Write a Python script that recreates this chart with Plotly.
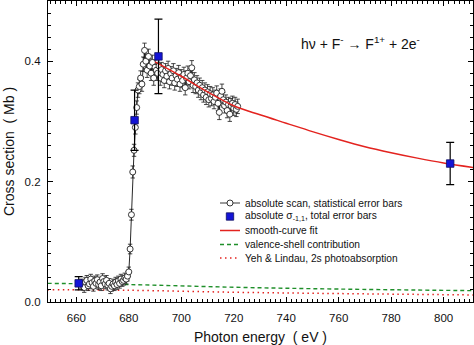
import plotly.graph_objects as go

# ---------------- data ----------------
scan_energy = [
    662.0, 662.5, 663.0, 663.5, 664.0, 664.5, 665.0, 665.5, 666.0, 666.5,
    667.0, 667.5, 668.0, 668.5, 669.0, 669.5, 670.0, 670.5, 671.0, 671.5,
    672.0, 672.5, 673.0, 673.5, 674.0, 674.5, 675.0, 675.5, 676.0, 676.5,
    677.0, 677.5, 678.0, 678.5, 679.0, 679.5, 680.0, 680.5, 681.0, 681.5,
    682.0, 682.5, 683.0, 683.5, 684.0, 684.5, 685.0, 685.5, 686.0, 686.5,
    687.0, 687.5, 688.0, 688.5, 689.0, 689.5, 690.0, 690.5, 691.0, 691.5,
    692.0, 692.5, 693.0, 693.5, 694.0, 694.5, 695.0, 695.5, 696.0, 696.5,
    697.0, 697.5, 698.0, 698.5, 699.0, 699.5, 700.0, 700.5, 701.0, 701.5,
    702.0, 702.5, 703.0, 703.5, 704.0, 704.5, 705.0, 705.5, 706.0, 706.5,
    707.0, 707.5, 708.0, 708.5, 709.0, 709.5, 710.0, 710.5, 711.0, 711.5,
    712.0, 712.5, 713.0, 713.5, 714.0, 714.5, 715.0, 715.5, 716.0, 716.5,
    717.0, 717.5, 718.0, 718.5, 719.0, 719.5, 720.0, 720.5, 721.0, 721.5,
]
scan_sigma = [
    0.030, 0.028, 0.024, 0.033, 0.036, 0.027, 0.030, 0.038, 0.032, 0.026,
    0.035, 0.031, 0.037, 0.029, 0.033, 0.027, 0.039, 0.034, 0.030, 0.036,
    0.028, 0.031, 0.022, 0.026, 0.030, 0.027, 0.033, 0.029, 0.035, 0.031,
    0.038, 0.034, 0.036, 0.040, 0.038, 0.043, 0.050, 0.088, 0.145, 0.216,
    0.252, 0.290, 0.323, 0.352, 0.358, 0.372, 0.362, 0.395, 0.418, 0.400,
    0.385, 0.408, 0.392, 0.380, 0.398, 0.372, 0.390, 0.385, 0.380, 0.392,
    0.372, 0.386, 0.378, 0.368, 0.384, 0.375, 0.388, 0.366, 0.379, 0.372,
    0.384, 0.364, 0.376, 0.370, 0.381, 0.362, 0.374, 0.368, 0.378, 0.356,
    0.372, 0.380, 0.366, 0.376, 0.389, 0.360, 0.369, 0.358, 0.364, 0.352,
    0.360, 0.348, 0.356, 0.344, 0.352, 0.340, 0.349, 0.336, 0.346, 0.338,
    0.344, 0.333, 0.340, 0.347, 0.330, 0.315, 0.342, 0.350, 0.336, 0.326,
    0.332, 0.318, 0.328, 0.312, 0.326, 0.330, 0.322, 0.328, 0.320, 0.325,
]
scan_err = [
    0.008, 0.008, 0.008, 0.008, 0.008, 0.008, 0.008, 0.008, 0.008, 0.008,
    0.008, 0.008, 0.008, 0.008, 0.008, 0.008, 0.008, 0.008, 0.008, 0.008,
    0.008, 0.008, 0.008, 0.008, 0.008, 0.008, 0.008, 0.008, 0.008, 0.008,
    0.008, 0.008, 0.008, 0.008, 0.008, 0.008, 0.008, 0.008, 0.009, 0.010,
    0.010, 0.011, 0.011, 0.012, 0.012, 0.012, 0.012, 0.012, 0.012, 0.012,
    0.012, 0.012, 0.012, 0.012, 0.012, 0.012, 0.012, 0.012, 0.012, 0.012,
    0.012, 0.012, 0.012, 0.012, 0.012, 0.012, 0.012, 0.012, 0.012, 0.012,
    0.012, 0.012, 0.012, 0.012, 0.012, 0.012, 0.012, 0.012, 0.012, 0.012,
    0.012, 0.012, 0.012, 0.012, 0.012, 0.012, 0.012, 0.012, 0.012, 0.012,
    0.012, 0.012, 0.012, 0.012, 0.012, 0.012, 0.012, 0.012, 0.012, 0.012,
    0.012, 0.012, 0.012, 0.012, 0.012, 0.012, 0.012, 0.012, 0.012, 0.012,
    0.012, 0.012, 0.012, 0.012, 0.012, 0.012, 0.012, 0.012, 0.012, 0.012,
]

abs_energy = [660.9, 682.2, 691.3, 802.5]
abs_sigma = [0.031, 0.302, 0.408, 0.230]
abs_err = [0.011, 0.050, 0.062, 0.035]

fit_energy = [690, 700, 710, 720, 730, 740, 750, 760, 770, 780, 790, 800, 812]
fit_sigma = [0.399, 0.375, 0.349, 0.326, 0.311, 0.297, 0.283, 0.270, 0.258,
             0.248, 0.239, 0.231, 0.223]

valence_energy = [649, 680, 720, 760, 812]
valence_sigma = [0.031, 0.029, 0.0245, 0.0215, 0.0188]

yeh_energy = [649, 680, 720, 760, 812]
yeh_sigma = [0.0205, 0.0195, 0.0162, 0.0140, 0.0117]

legend_labels = [
    "absolute scan, statistical error bars",
    "absolute σ<sub>-1,1</sub>, total error bars",
    "smooth-curve fit",
    "valence-shell contribution",
    "Yeh &amp; Lindau, 2s photoabsorption",
]

# ---------------- styles ----------------
FONT = "Liberation Sans, Arial, Helvetica, sans-serif"
RED = "#e3231f"
GREEN = "#1f8f2a"
BLUE = "#1414d6"

fig = go.Figure()

fig.add_trace(go.Scatter(
    x=valence_energy, y=valence_sigma, mode="lines", line_shape="spline",
    line=dict(color=GREEN, width=1.4, dash="4px,3px"), hoverinfo="skip"))
fig.add_trace(go.Scatter(
    x=yeh_energy, y=yeh_sigma, mode="lines", line_shape="spline",
    line=dict(color=RED, width=1.5, dash="1.5px,3.5px"), hoverinfo="skip"))
fig.add_trace(go.Scatter(
    x=scan_energy, y=scan_sigma, mode="lines+markers",
    line=dict(color="#111111", width=0.9),
    marker=dict(symbol="circle", size=6, color="white",
                line=dict(color="#222222", width=0.9)),
    error_y=dict(type="data", array=scan_err, color="#1a1a1a",
                 thickness=0.8, width=2.2)))
fig.add_trace(go.Scatter(
    x=fit_energy, y=fit_sigma, mode="lines", line_shape="spline",
    line=dict(color=RED, width=1.5)))
fig.add_trace(go.Scatter(
    x=abs_energy, y=abs_sigma, mode="markers",
    marker=dict(symbol="square", size=7.5, color=BLUE,
                line=dict(color="#101060", width=0.8)),
    error_y=dict(type="data", array=abs_err, color="black",
                 thickness=1.2, width=4)))

# ---------------- custom legend ----------------
L, R, T, B = 48, 473, 1, 302
W, H = R - L, B - T


def px(xp):
    return (xp - L) / W


def py(yp):
    return (B - yp) / H


rows = [203, 216.5, 230.5, 244.5, 258]
sym_x0, sym_x1, sym_xc, text_x = 220, 240, 230, 243
shapes = []
annotations = []

# row 1: line + open circle
shapes.append(dict(type="line", xref="paper", yref="paper",
                   x0=px(sym_x0), x1=px(sym_x1), y0=py(rows[0]), y1=py(rows[0]),
                   line=dict(color="#222222", width=0.9)))
shapes.append(dict(type="circle", xref="paper", yref="paper",
                   xsizemode="pixel", ysizemode="pixel",
                   xanchor=px(sym_xc), yanchor=py(rows[0]),
                   x0=-3, x1=3, y0=-3, y1=3,
                   fillcolor="white", line=dict(color="#222222", width=0.9)))
# row 2: blue square
shapes.append(dict(type="rect", xref="paper", yref="paper",
                   xsizemode="pixel", ysizemode="pixel",
                   xanchor=px(sym_xc), yanchor=py(rows[1]),
                   x0=-3.7, x1=3.7, y0=-3.7, y1=3.7,
                   fillcolor=BLUE, line=dict(color="#101060", width=0.8)))
# row 3: red solid
shapes.append(dict(type="line", xref="paper", yref="paper",
                   x0=px(sym_x0), x1=px(sym_x1), y0=py(rows[2]), y1=py(rows[2]),
                   line=dict(color=RED, width=1.5)))
# row 4: green dashed
shapes.append(dict(type="line", xref="paper", yref="paper",
                   x0=px(sym_x0), x1=px(sym_x1), y0=py(rows[3]), y1=py(rows[3]),
                   line=dict(color=GREEN, width=1.4, dash="4px,3px")))
# row 5: red dotted
shapes.append(dict(type="line", xref="paper", yref="paper",
                   x0=px(sym_x0), x1=px(sym_x1), y0=py(rows[4]), y1=py(rows[4]),
                   line=dict(color=RED, width=1.5, dash="1.5px,3.5px")))

for r, lab in zip(rows, legend_labels):
    annotations.append(dict(xref="paper", yref="paper", x=px(text_x), y=py(r),
                            xanchor="left", yanchor="middle", showarrow=False,
                            text=lab, font=dict(family=FONT, size=10.2, color="#111111")))

annotations.append(dict(
    xref="paper", yref="paper", x=px(360), y=py(43), xanchor="center",
    yanchor="middle", showarrow=False,
    text="hν + F<sup>-</sup> → F<sup>1+</sup> + 2e<sup>-</sup>",
    font=dict(family=FONT, size=14, color="#111111")))

axis_common = dict(
    showline=True, linecolor="black", linewidth=1.2, mirror="allticks",
    ticks="inside", ticklen=5, tickwidth=1, tickcolor="black",
    showgrid=False, zeroline=False,
    tickfont=dict(family=FONT, size=11.5, color="#111111"),
)

fig.update_layout(
    width=474, height=345,
    margin=dict(l=L, r=474 - R, t=T, b=345 - B),
    paper_bgcolor="white", plot_bgcolor="white",
    showlegend=False,
    shapes=shapes, annotations=annotations,
    xaxis=dict(range=[649.2, 811.2], dtick=20, tick0=660, ticklabelstandoff=5,
               minor=dict(dtick=2, ticklen=3, tickcolor="black", ticks="inside"),
               title=dict(text="Photon energy  ( eV )", standoff=10,
                          font=dict(family=FONT, size=14, color="#111111")),
               **axis_common),
    yaxis=dict(range=[0, 0.5], dtick=0.2, tick0=0, tickformat=".1f",
               ticklabelstandoff=4,
               minor=dict(dtick=0.02, ticklen=3, tickcolor="black", ticks="inside"),
               title=dict(text="Cross section  ( Mb )", standoff=6,
                          font=dict(family=FONT, size=14, color="#111111")),
               **axis_common),
)

fig.write_html("out.html")
